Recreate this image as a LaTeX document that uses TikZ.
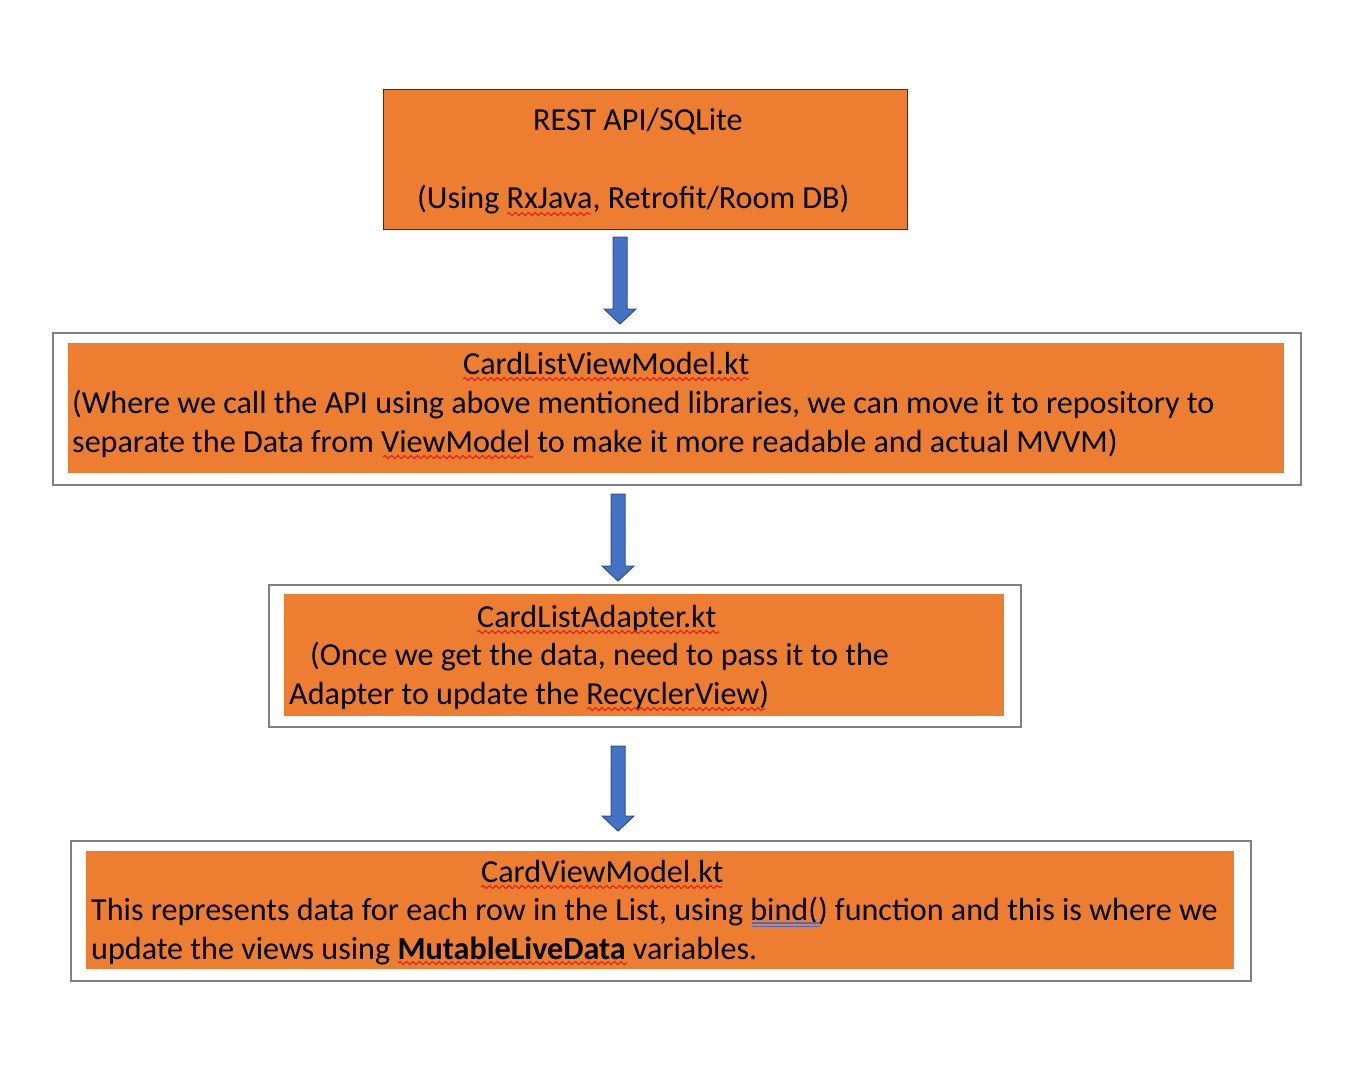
\documentclass[tikz,border=0pt]{standalone}
\usepackage{fontspec}
\setmainfont{Carlito}
\usetikzlibrary{calc,decorations.pathmorphing}
\definecolor{orng}{HTML}{ED7D31}
\definecolor{arrblue}{HTML}{4472C4}
\definecolor{arredge}{HTML}{2F528F}
\definecolor{framegray}{HTML}{808080}
\definecolor{spellred}{HTML}{E3201B}
\definecolor{gramblue}{HTML}{3A6FD8}
\newcommand\blockarr[2]{%
  \draw[blockarrow] let \p1=(#1), \p2=(#2) in
    (\x1-7,\y1) -- (\x1+7,\y1) -- (\x1+7,\y2+15) -- (\x1+16,\y2+15)
    -- (\x1,\y2) -- (\x1-16,\y2+15) -- (\x1-7,\y2+15) -- cycle;}
\newcommand\squig[3]{%
  \draw[squiggle] (#1,#3) -- (#2,#3);}
\begin{document}
\begin{tikzpicture}[x=1pt,y=-1pt,
  topbox/.style={fill=orng,draw=black!80,line width=0.8pt,inner sep=0pt},
  outerbox/.style={fill=white,draw=framegray,line width=1.6pt,inner sep=0pt},
  innerbox/.style={fill=orng,draw=none,inner sep=0pt},
  txt/.style={inner sep=0pt,anchor=base west,font=\fontsize{32.1}{39}\selectfont},
  blockarrow/.style={fill=arrblue,draw=arredge,line width=1pt,line join=miter},
  squiggle/.style={draw=spellred,line width=1.1pt,decorate,
    decoration={snake,segment length=6.5pt,amplitude=1.5pt}},
  gram/.style={draw=gramblue,line width=1.2pt}]
\useasboundingbox (0,0) rectangle (1356,1072);
\fill[white] (0,0) rectangle (1356,1072);
% boxes
\node[topbox,minimum width=524,minimum height=140] (api) at (645,159) {};
\node[outerbox,minimum width=1248,minimum height=152] (vmOuter) at (677,409) {};
\node[innerbox,minimum width=1216,minimum height=130] (vmInner) at (676,408) {};
\node[outerbox,minimum width=752,minimum height=142] (adOuter) at (645,656) {};
\node[innerbox,minimum width=720,minimum height=122] (adInner) at (644,655) {};
\node[outerbox,minimum width=1180,minimum height=140] (cvOuter) at (661,911) {};
\node[innerbox,minimum width=1148,minimum height=118] (cvInner) at (660,910) {};
% arrow anchors
\coordinate (a1top) at (620,237);
\coordinate (a1tip) at (620,324);
\coordinate (a2top) at (618,494);
\coordinate (a2tip) at (618,581);
\coordinate (a3top) at (618,746);
\coordinate (a3tip) at (618,831);
\blockarr{a1top}{a1tip}
\blockarr{a2top}{a2tip}
\blockarr{a3top}{a3tip}
% texts box 1
\node[txt] (apiT1) at (533,130) {REST API/SQLite};
\node[txt] (apiT2) at (417,208) {(Using RxJava, Retrofit/Room DB)};
% texts box 2
\node[txt] (vmT1) at (463,374) {CardListViewModel.kt};
\node[txt] (vmT2) at (72,413) {(Where we call the API using above mentioned libraries, we can move it to repository to};
\node[txt] (vmT3) at (72,452) {separate the Data from ViewModel to make it more readable and actual MVVM)};
% texts box 3
\node[txt] (adT1) at (477,627) {CardListAdapter.kt};
\node[txt] (adT2) at (310,665) {(Once we get the data, need to pass it to the};
\node[txt] (adT3) at (289,704) {Adapter to update the RecyclerView)};
% texts box 4
\node[txt] (cvT1) at (481,882) {CardViewModel.kt};
\node[txt] (cvT2) at (91,920) {This represents data for each row in the List, using bind() function and this is where we};
\node[txt] (cvT3) at (91,959) {update the views using \textbf{MutableLiveData} variables.};
% spell-check marks
\squig{507}{591}{214}
\squig{463}{749}{379}
\squig{383}{533}{457}
\squig{477}{719}{632}
\squig{587}{765}{709}
\squig{481}{722}{887}
\squig{398}{627}{963}
\draw[gram] (752,923) -- (820,923);
\draw[gram] (752,926.5) -- (820,926.5);
\end{tikzpicture}
\end{document}
